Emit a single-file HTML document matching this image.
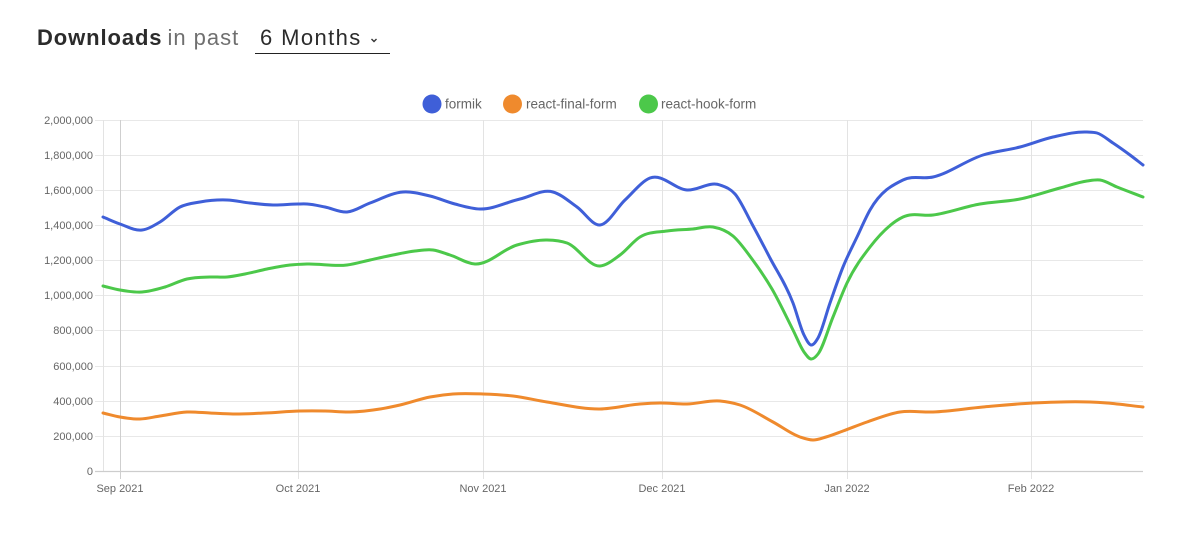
<!DOCTYPE html>
<html>
<head>
<meta charset="utf-8">
<style>
  html, body { margin: 0; padding: 0; background: #fff; }
  body { width: 1200px; height: 536px; position: relative; overflow: hidden; font-family: "Liberation Sans", sans-serif; }
  .hdr { position: absolute; left: 37px; top: 24px; font-size: 22px; line-height: 28px; white-space: nowrap; }
  .hdr .b { color: #2b2b2b; font-weight: 600; letter-spacing: 0.9px; }
  .hdr .g { color: #6f6f6f; letter-spacing: 1px; margin-left: 5px; }
  .sel { position: absolute; left: 255px; top: 24px; width: 135px; height: 29px; border-bottom: 1.5px solid #222; font-size: 22px; line-height: 28px; color: #2b2b2b; letter-spacing: 1.4px; }
  .sel span { position: absolute; left: 5px; top: 0; }
  svg { position: absolute; left: 0; top: 0; }
</style>
</head>
<body>
<div class="hdr"><span class="b">Downloads</span><span class="g">in past</span></div>
<div class="sel"><span>6 Months</span>
  <svg width="135" height="29" style="position:absolute;left:0;top:0"><polyline points="116.5,15 119,17.5 121.5,15" fill="none" stroke="#333" stroke-width="1.4"/></svg>
</div>

<svg width="1200" height="536" xmlns="http://www.w3.org/2000/svg" style="top:0;left:0">
  <!-- legend -->
  <circle cx="432" cy="104" r="9.5" fill="#3f5fd8"/>
  <text x="445" y="108.5" font-size="13.5" fill="#666" font-family="Liberation Sans, sans-serif">formik</text>
  <circle cx="512.5" cy="104" r="9.5" fill="#ef8a2d"/>
  <text x="526" y="108.5" font-size="13.5" fill="#666" font-family="Liberation Sans, sans-serif">react-final-form</text>
  <circle cx="648.5" cy="104" r="9.5" fill="#4cc84a"/>
  <text x="661" y="108.5" font-size="13.5" fill="#666" font-family="Liberation Sans, sans-serif">react-hook-form</text>

  <!-- horizontal grid -->
  <g stroke="#e8e8e8" stroke-width="1">
    <line x1="95" y1="120.5" x2="1143" y2="120.5"/>
    <line x1="95" y1="155.5" x2="1143" y2="155.5"/>
    <line x1="95" y1="190.5" x2="1143" y2="190.5"/>
    <line x1="95" y1="225.5" x2="1143" y2="225.5"/>
    <line x1="95" y1="260.5" x2="1143" y2="260.5"/>
    <line x1="95" y1="295.5" x2="1143" y2="295.5"/>
    <line x1="95" y1="330.5" x2="1143" y2="330.5"/>
    <line x1="95" y1="366.5" x2="1143" y2="366.5"/>
    <line x1="95" y1="401.5" x2="1143" y2="401.5"/>
    <line x1="95" y1="436.5" x2="1143" y2="436.5"/>
  </g>
  <!-- vertical grid -->
  <g stroke="#e3e3e3" stroke-width="1">
    <line x1="103.5" y1="120" x2="103.5" y2="471"/>
    <line x1="298.5" y1="120" x2="298.5" y2="479"/>
    <line x1="483.5" y1="120" x2="483.5" y2="479"/>
    <line x1="662.5" y1="120" x2="662.5" y2="479"/>
    <line x1="847.5" y1="120" x2="847.5" y2="479"/>
    <line x1="1031.5" y1="120" x2="1031.5" y2="479"/>
  </g>
  <line x1="120.5" y1="120" x2="120.5" y2="479" stroke="#cfcfcf" stroke-width="1"/>
  <line x1="95" y1="471.5" x2="1143" y2="471.5" stroke="#cdcdcd" stroke-width="1.2"/>

  <!-- y labels -->
  <g font-size="11" fill="#666" text-anchor="end" font-family="Liberation Sans, sans-serif">
    <text x="93" y="124">2,000,000</text>
    <text x="93" y="159">1,800,000</text>
    <text x="93" y="194">1,600,000</text>
    <text x="93" y="229">1,400,000</text>
    <text x="93" y="264">1,200,000</text>
    <text x="93" y="299">1,000,000</text>
    <text x="93" y="334">800,000</text>
    <text x="93" y="370">600,000</text>
    <text x="93" y="405">400,000</text>
    <text x="93" y="440">200,000</text>
    <text x="93" y="475">0</text>
  </g>
  <!-- x labels -->
  <g font-size="11" fill="#666" text-anchor="middle" font-family="Liberation Sans, sans-serif">
    <text x="120" y="492">Sep 2021</text>
    <text x="298" y="492">Oct 2021</text>
    <text x="483" y="492">Nov 2021</text>
    <text x="662" y="492">Dec 2021</text>
    <text x="847" y="492">Jan 2022</text>
    <text x="1031" y="492">Feb 2022</text>
  </g>

  <!-- series -->
  <g fill="none" stroke-width="3" stroke-linejoin="round" stroke-linecap="round">
    <polyline class="s" stroke="#ef8a2d" points="103,413 120,417 140,419 160,416 187,412 210,413 233,414 265,413 300,411 325,411 350,412 380,409 400,405 430,397 453,394 483,394 513,396 547,402 600,409 640,404 660,403 687,404 720,401 740,405 773,422 800,437 813,440 826,437 843,431 867,422 900,412 933,412 983,407 1033,403 1090,402 1107,403 1143,407"/>
    <polyline class="s" stroke="#4cc84a" points="103,286 120,290 142,292 165,287 187,279 210,277 227,277 245,274 267,269 290,265 307,264 347,265 370,260 393,255 415,251 433,250 450,255 475,264 517,245 547,240 567,243 600,266 620,255 640,237 667,231 693,229 713,227 733,236 752,259 772,289 793,330 804,352 811,359 818,354 833,317 847,283 870,247 903,217 933,215 980,204 1020,199 1060,188 1087,181 1100,180 1117,187 1143,197"/>
    <polyline class="s" stroke="#3f5fd8" points="103,217 120,224 142,230 160,222 180,207 200,202 227,200 250,203 273,205 298,204 307,204 325,207 347,212 370,203 403,192 430,196 455,204 480,209 520,199 553,192 577,207 600,225 625,200 650,178 687,190 720,185 735,194 752,224 770,258 793,303 804,335 811,345 818,338 830,303 843,267 857,237 870,210 903,180 933,177 983,155 1020,147 1053,137 1087,132 1097,133 1113,143 1130,155 1143,165"/>
  </g>
</svg>
<script>
(function(){
  var ns="http://www.w3.org/2000/svg";
  var pls=document.querySelectorAll("polyline.s");
  for(var k=0;k<pls.length;k++){
    var pl=pls[k];
    var P=pl.getAttribute("points").trim().split(/\s+/).map(function(p){var a=p.split(",");return [+a[0],+a[1]];});
    var n=P.length, m=[];
    for(var i=0;i<n;i++){
      if(i===0) m[i]=(P[1][1]-P[0][1])/(P[1][0]-P[0][0]);
      else if(i===n-1) m[i]=(P[n-1][1]-P[n-2][1])/(P[n-1][0]-P[n-2][0]);
      else {
        var d0=(P[i][1]-P[i-1][1])/(P[i][0]-P[i-1][0]);
        var d1=(P[i+1][1]-P[i][1])/(P[i+1][0]-P[i][0]);
        var h0=P[i][0]-P[i-1][0], h1=P[i+1][0]-P[i][0];
        m[i]=(d0*h1+d1*h0)/(h0+h1);
      }
    }
    var d="M"+P[0][0]+","+P[0][1];
    for(var i=0;i<n-1;i++){
      var h=(P[i+1][0]-P[i][0])/3;
      d+=" C"+(P[i][0]+h).toFixed(2)+","+(P[i][1]+m[i]*h).toFixed(2)+" "+(P[i+1][0]-h).toFixed(2)+","+(P[i+1][1]-m[i+1]*h).toFixed(2)+" "+P[i+1][0]+","+P[i+1][1];
    }
    var path=document.createElementNS(ns,"path");
    path.setAttribute("d",d);
    path.setAttribute("stroke",pl.getAttribute("stroke"));
    path.setAttribute("fill","none");
    pl.parentNode.replaceChild(path,pl);
  }
})();
</script>
</body>
</html>
